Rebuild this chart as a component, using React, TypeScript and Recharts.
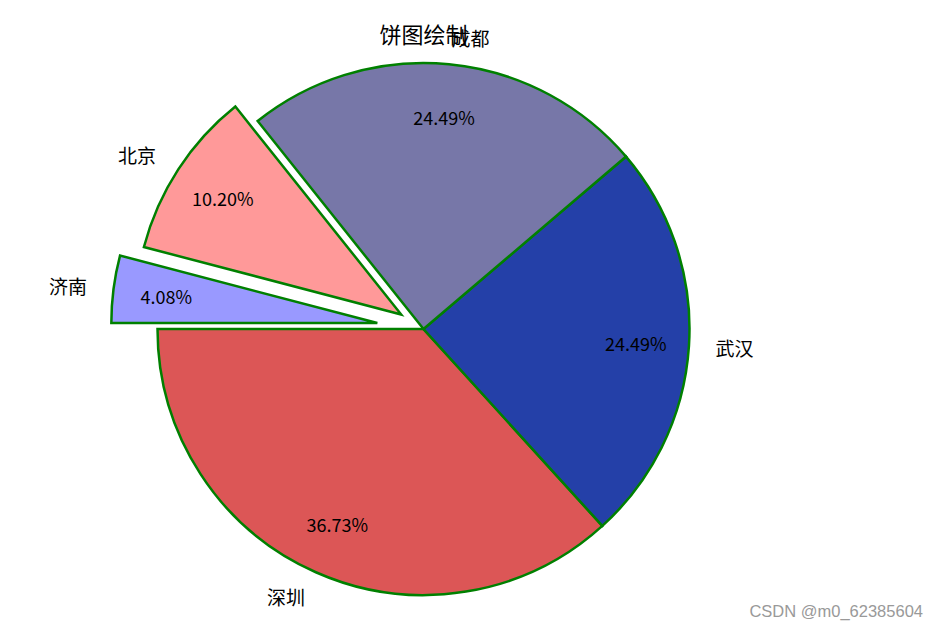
import { PieChart, Pie, Cell } from 'recharts';

const cities = ['深圳', '武汉', '成都', '北京', '济南'];
const counts = [18, 12, 12, 5, 2];
const colors = ['#DC5656', '#2440A8', '#7777A8', '#FF9999', '#9999FF'];
const explode = [0, 0, 0, 0.1, 0.175];

const data = cities.map((name, i) => ({ name, value: counts[i] }));

const W = 939;
const H = 629;
const CX = 423.5;
const CY = 329;
const R = 266;
const START = 180;
const RADIAN = Math.PI / 180;
const FONT = '"Noto Sans CJK SC", "Noto Sans", sans-serif';

const total = counts.reduce((a, b) => a + b, 0);

// mid angle of each slice, counter-clockwise from START, like matplotlib
function midAngle(i: number) {
  const before = counts.slice(0, i).reduce((a, b) => a + b, 0);
  return START + ((before + counts[i] / 2) / total) * 360;
}

function makeLabel(target: number) {
  // eslint-disable-next-line @typescript-eslint/no-explicit-any
  return (props: any) => {
    if (props.index !== target) return null;
    const { cx, cy, midAngle: mid, outerRadius, percent, name } = props;
    const cos = Math.cos(-mid * RADIAN);
    const sin = Math.sin(-mid * RADIAN);
    const px = cx + outerRadius * 0.8 * cos;
    const py = cy + outerRadius * 0.8 * sin;
    const lx = cx + outerRadius * 1.1 * cos;
    const ly = cy + outerRadius * 1.1 * sin;
    return (
      <g>
        <text x={px} y={py} textAnchor="middle" dominantBaseline="central" fontSize={18} fontFamily={FONT} fill="#000">
          {(percent * 100).toFixed(2)}%
        </text>
        <text x={lx} y={ly} textAnchor={cos > 0 ? 'start' : 'end'} dominantBaseline="central" fontSize={19} fontFamily={FONT} fill="#000">
          {name}
        </text>
      </g>
    );
  };
}

export default function App() {
  return (
    <div style={{ position: 'absolute', left: 0, top: 0, width: W, height: H, background: '#fff' }}>
      <PieChart width={W} height={H} margin={{ top: 0, right: 0, bottom: 0, left: 0 }}>
        {data.map((d, i) => {
          const a = midAngle(i) * RADIAN;
          const off = explode[i] * R;
          return (
            <Pie
              key={d.name}
              data={data}
              dataKey="value"
              nameKey="name"
              cx={CX + off * Math.cos(a)}
              cy={CY - off * Math.sin(a)}
              outerRadius={R}
              startAngle={START}
              endAngle={START + 360}
              stroke="#008000"
              strokeWidth={2.5}
              labelLine={false}
              label={makeLabel(i)}
              isAnimationActive={false}
            >
              {data.map((c, j) => (
                <Cell
                  key={c.name}
                  fill={j === i ? colors[j] : 'none'}
                  stroke={j === i ? '#008000' : 'none'}
                />
              ))}
            </Pie>
          );
        })}
      </PieChart>
      <div
        style={{
          position: 'absolute',
          left: 0,
          width: 2 * CX,
          top: 21,
          textAlign: 'center',
          fontFamily: FONT,
          fontSize: 22,
          lineHeight: '24px',
          color: '#000',
        }}
      >
        饼图绘制
      </div>
      <div
        style={{
          position: 'absolute',
          right: 16,
          top: 601,
          fontFamily: '"Liberation Sans", Arial, sans-serif',
          fontSize: 16.5,
          lineHeight: '20px',
          color: '#999',
        }}
      >
        CSDN @m0_62385604
      </div>
    </div>
  );
}
